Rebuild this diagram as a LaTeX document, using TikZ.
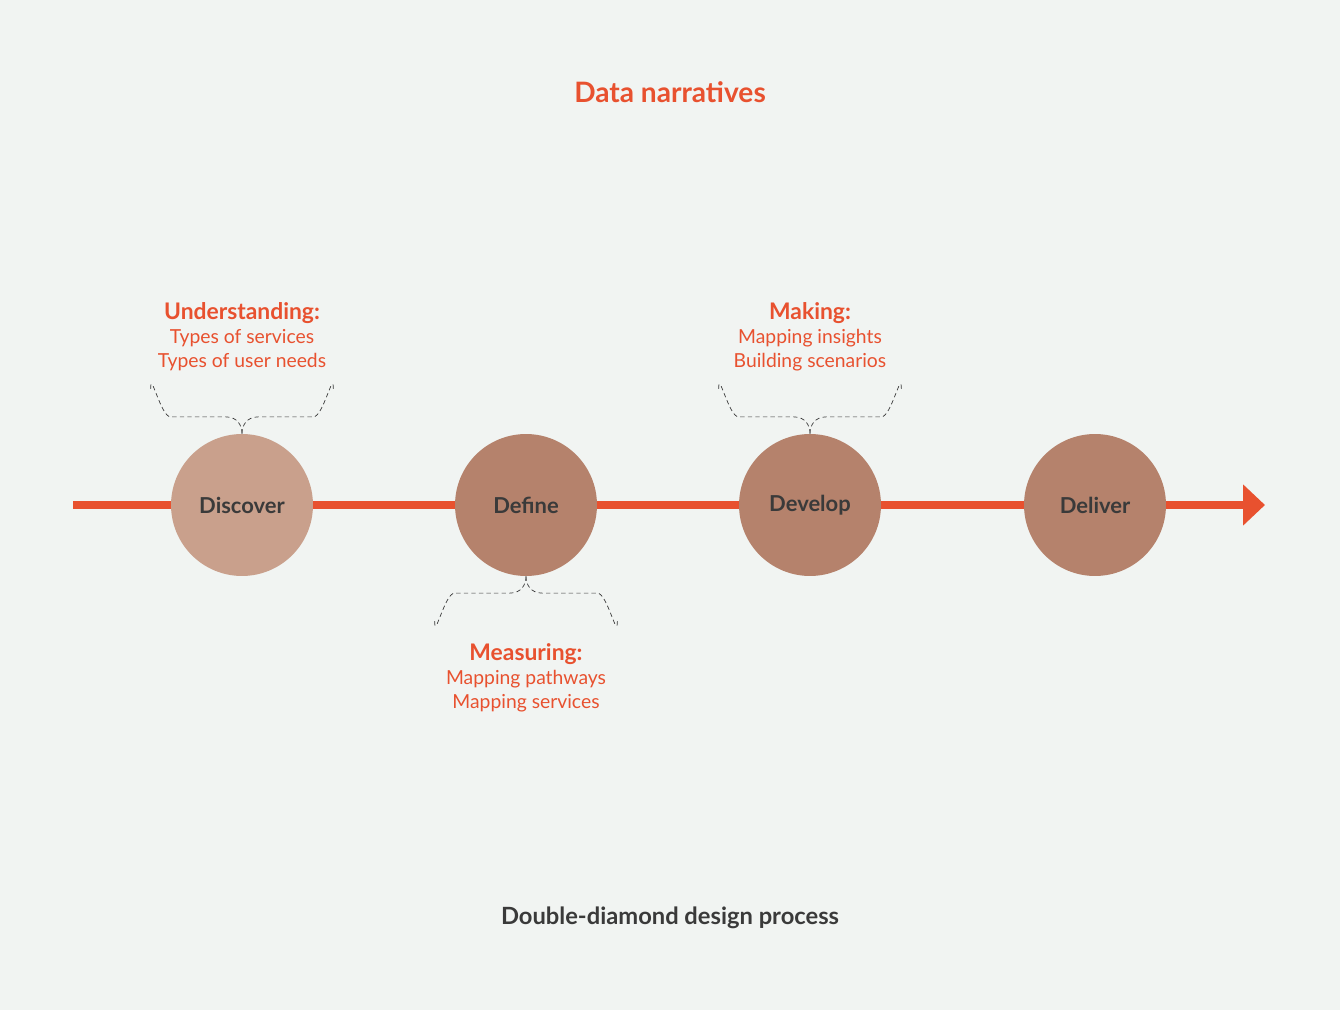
\documentclass[tikz,border=0pt]{standalone}
\usepackage{fontspec}
\setmainfont{Lato}
\usetikzlibrary{positioning, arrows.meta}
\definecolor{bgc}{HTML}{F1F4F2}
\definecolor{accent}{HTML}{E8512F}
\definecolor{lightstage}{HTML}{C9A08C}
\definecolor{stage}{HTML}{B5826C}
\definecolor{ink}{HTML}{3A3A3A}

\begin{document}
\begin{tikzpicture}[x=0.02cm, y=-0.02cm,
      phase/.style = {circle, minimum size=2.84cm, inner sep=0pt,
        fill=stage, text=ink, font=\fontsize{12.5}{14}\selectfont\bfseries
      },
      note/.style = {align=center, text=accent,
        font=\fontsize{11}{13.6}\selectfont
      },
      brace/.style = {dashed, dash pattern=on 2.5pt off 1.8pt, ink, thin}
    ]
    \fill[bgc] (0,0) rectangle (1340,1010);
    \node[text=accent, font=\fontsize{16}{18}\selectfont\bfseries] (title) at (670,92) {Data narratives};

    \coordinate (start) at (73,505);
    \coordinate (end) at (1265,505);
    \draw[accent, line width=5pt, -{Triangle[length=12.5pt, width=22.7pt]}] (start) -- (end);

    \node[phase, fill=lightstage] (discover) at (242,505) {Discover};
    \node[phase] (define) at (526,505) {Define};
    \node[phase] (develop) at (810,505) {Develop};
    \node[phase] (deliver) at (1095,505) {Deliver};

    % notes above and below
    \node[note] (understand) at (242,337) {{\fontsize{13}{15}\selectfont\bfseries Understanding:}\\Types of services\\Types of user needs};
    \node[note] (making) at (810,337) {{\fontsize{13}{15}\selectfont\bfseries Making:}\\Mapping insights\\Building scenarios};
    \node[note] (measure) at (526,678) {{\fontsize{13}{15}\selectfont\bfseries Measuring:}\\Mapping pathways\\Mapping services};

    % braces
    \foreach \c in {discover, develop} {
      \draw[brace] ([xshift=-52pt, yshift=25.5pt]\c.north) .. controls +(0,-20) and +(-10,0) .. ++(20,28)
        -- ++(55,0) .. controls +(12,0) and +(0,-8) .. (\c.north);
      \draw[brace] ([xshift=52pt, yshift=25.5pt]\c.north) .. controls +(0,-20) and +(10,0) .. ++(-20,28)
        -- ++(-55,0) .. controls +(-12,0) and +(0,-8) .. (\c.north);
    }
    \draw[brace] ([xshift=-52pt, yshift=-25.5pt]define.south) .. controls +(0,20) and +(-10,0) .. ++(20,-28)
      -- ++(55,0) .. controls +(12,0) and +(0,8) .. (define.south);
    \draw[brace] ([xshift=52pt, yshift=-25.5pt]define.south) .. controls +(0,20) and +(10,0) .. ++(-20,-28)
      -- ++(-55,0) .. controls +(-12,0) and +(0,8) .. (define.south);

    \node[text=ink, font=\fontsize{13.5}{16}\selectfont\bfseries] (caption) at (670,918) {Double-diamond design process};
\end{tikzpicture}
\end{document}
